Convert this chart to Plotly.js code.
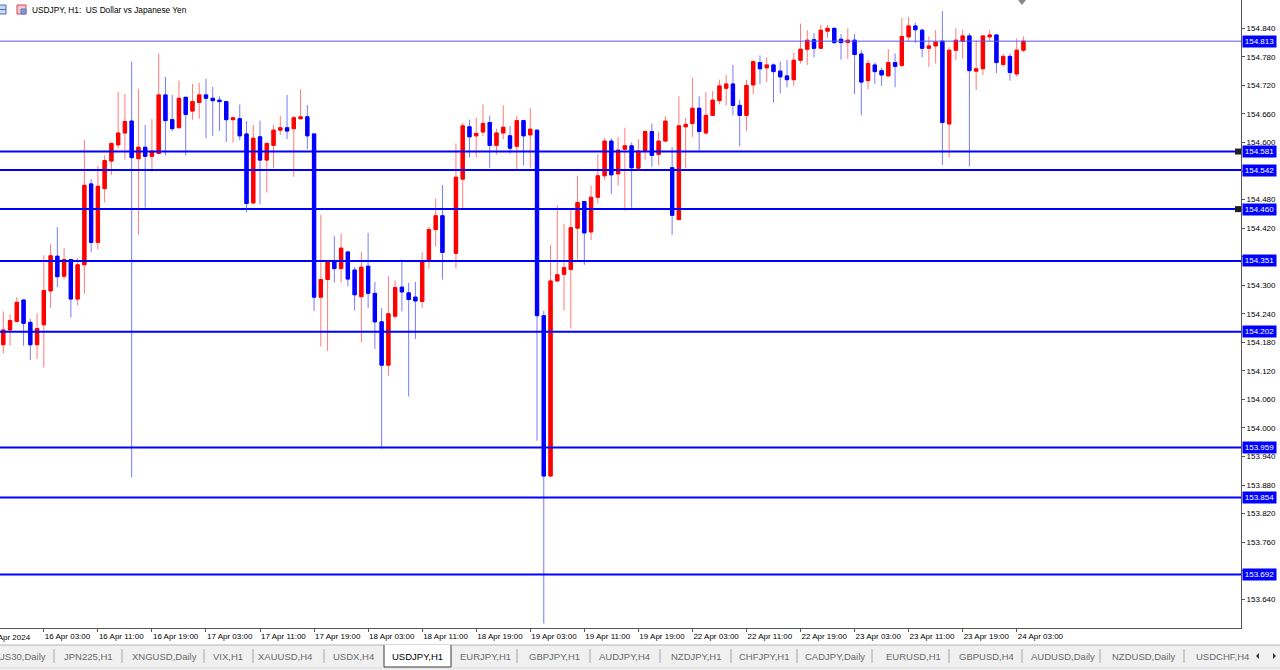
<!DOCTYPE html>
<html><head><meta charset="utf-8">
<script src="https://cdn.plot.ly/plotly-3.0.1.min.js"></script>
<style>html,body{margin:0;padding:0;background:#fff;overflow:hidden}#chart{width:1280px;height:670px}</style>
</head><body><div id="chart"></div>
<script>
// ---------------- DATA ----------------
const times = [
"2024-04-15 21:00","2024-04-15 22:00","2024-04-15 23:00",
"2024-04-16 00:00","2024-04-16 01:00","2024-04-16 02:00","2024-04-16 03:00","2024-04-16 04:00","2024-04-16 05:00","2024-04-16 06:00","2024-04-16 07:00","2024-04-16 08:00","2024-04-16 09:00","2024-04-16 10:00","2024-04-16 11:00","2024-04-16 12:00","2024-04-16 13:00","2024-04-16 14:00","2024-04-16 15:00","2024-04-16 16:00","2024-04-16 17:00","2024-04-16 18:00","2024-04-16 19:00","2024-04-16 20:00","2024-04-16 21:00","2024-04-16 22:00","2024-04-16 23:00",
"2024-04-17 00:00","2024-04-17 01:00","2024-04-17 02:00","2024-04-17 03:00","2024-04-17 04:00","2024-04-17 05:00","2024-04-17 06:00","2024-04-17 07:00","2024-04-17 08:00","2024-04-17 09:00","2024-04-17 10:00","2024-04-17 11:00","2024-04-17 12:00","2024-04-17 13:00","2024-04-17 14:00","2024-04-17 15:00","2024-04-17 16:00","2024-04-17 17:00","2024-04-17 18:00","2024-04-17 19:00","2024-04-17 20:00","2024-04-17 21:00","2024-04-17 22:00","2024-04-17 23:00",
"2024-04-18 00:00","2024-04-18 01:00","2024-04-18 02:00","2024-04-18 03:00","2024-04-18 04:00","2024-04-18 05:00","2024-04-18 06:00","2024-04-18 07:00","2024-04-18 08:00","2024-04-18 09:00","2024-04-18 10:00","2024-04-18 11:00","2024-04-18 12:00","2024-04-18 13:00","2024-04-18 14:00","2024-04-18 16:00","2024-04-18 17:00","2024-04-18 18:00","2024-04-18 19:00","2024-04-18 20:00","2024-04-18 21:00","2024-04-18 22:00","2024-04-18 23:00",
"2024-04-19 00:00","2024-04-19 01:00","2024-04-19 02:00","2024-04-19 03:00","2024-04-19 04:00","2024-04-19 05:00","2024-04-19 06:00","2024-04-19 07:00","2024-04-19 08:00","2024-04-19 09:00","2024-04-19 10:00","2024-04-19 11:00","2024-04-19 12:00","2024-04-19 13:00","2024-04-19 14:00","2024-04-19 15:00","2024-04-19 16:00","2024-04-19 17:00","2024-04-19 18:00","2024-04-19 19:00","2024-04-19 20:00","2024-04-19 21:00","2024-04-19 22:00","2024-04-19 23:00",
"2024-04-22 00:00","2024-04-22 01:00","2024-04-22 02:00","2024-04-22 03:00","2024-04-22 04:00","2024-04-22 05:00","2024-04-22 06:00","2024-04-22 07:00","2024-04-22 08:00","2024-04-22 09:00","2024-04-22 10:00","2024-04-22 11:00","2024-04-22 12:00","2024-04-22 13:00","2024-04-22 14:00","2024-04-22 15:00","2024-04-22 16:00","2024-04-22 17:00","2024-04-22 18:00","2024-04-22 19:00","2024-04-22 20:00","2024-04-22 21:00","2024-04-22 22:00","2024-04-22 23:00",
"2024-04-23 00:00","2024-04-23 01:00","2024-04-23 02:00","2024-04-23 03:00","2024-04-23 04:00","2024-04-23 05:00","2024-04-23 06:00","2024-04-23 07:00","2024-04-23 08:00","2024-04-23 09:00","2024-04-23 10:00","2024-04-23 11:00","2024-04-23 12:00","2024-04-23 13:00","2024-04-23 14:00","2024-04-23 15:00","2024-04-23 16:00","2024-04-23 17:00","2024-04-23 18:00","2024-04-23 19:00","2024-04-23 20:00","2024-04-23 21:00","2024-04-23 22:00","2024-04-23 23:00",
"2024-04-24 00:00","2024-04-24 01:00","2024-04-24 02:00","2024-04-24 03:00","2024-04-24 04:00"
];
const open = [
154.175,154.206,154.224,
154.269,154.222,154.175,154.217,154.288,154.361,154.319,154.354,154.271,154.343,154.513,154.390,154.503,154.561,154.595,154.620,154.645,154.566,154.590,154.571,154.577,154.700,154.648,154.631,
154.695,154.666,154.684,154.700,154.693,154.689,154.686,154.648,154.650,154.618,154.473,154.612,154.563,154.594,154.626,154.631,154.629,154.650,154.654,154.618,154.275,154.312,154.350,154.335,
154.370,154.332,154.276,154.340,154.283,154.223,154.132,154.235,154.296,154.284,154.275,154.266,154.352,154.417,154.446,154.367,154.523,154.633,154.614,154.622,154.642,154.594,154.620,
154.614,154.592,154.646,154.616,154.626,154.236,153.899,154.309,154.323,154.333,154.420,154.476,154.412,154.485,154.530,154.603,154.534,154.586,154.593,154.546,154.583,154.623,154.575,154.603,
154.547,154.438,154.633,154.640,154.672,154.620,154.657,154.688,154.714,154.723,154.678,154.657,154.721,154.768,154.757,154.763,154.750,154.740,154.732,154.773,154.796,154.816,154.798,154.834,
154.840,154.817,154.810,154.815,154.786,154.730,154.763,154.751,154.740,154.768,154.762,154.822,154.845,154.836,154.798,154.803,154.813,154.639,154.794,154.813,154.824,154.750,154.755,154.822,
154.826,154.764,154.781,154.744,154.794
];
const high = [
154.245,154.239,154.275,
154.270,154.229,154.241,154.363,154.386,154.422,154.378,154.354,154.357,154.606,154.523,154.551,154.573,154.600,154.706,154.702,154.770,154.713,154.637,154.650,154.787,154.738,154.700,154.730,
154.695,154.723,154.725,154.734,154.717,154.697,154.686,154.654,154.680,154.645,154.637,154.646,154.600,154.637,154.656,154.700,154.656,154.712,154.679,154.618,154.448,154.350,154.403,154.409,
154.370,154.338,154.370,154.410,154.307,154.252,154.319,154.310,154.354,154.305,154.307,154.369,154.423,154.482,154.511,154.598,154.642,154.648,154.652,154.680,154.656,154.629,154.678,
154.635,154.656,154.648,154.672,154.626,154.246,154.385,154.468,154.429,154.462,154.530,154.476,154.509,154.575,154.609,154.609,154.612,154.631,154.600,154.607,154.626,154.640,154.623,154.656,
154.590,154.697,154.652,154.736,154.697,154.706,154.708,154.732,154.742,154.763,154.690,154.732,154.772,154.783,154.779,154.766,154.770,154.774,154.789,154.850,154.836,154.830,154.847,154.847,
154.840,154.828,154.840,154.828,154.794,154.774,154.768,154.757,154.796,154.787,154.862,154.864,154.852,154.839,154.823,154.836,154.876,154.800,154.840,154.837,154.830,154.815,154.824,154.837,
154.828,154.787,154.787,154.819,154.823
];
const low = [
154.157,154.173,154.222,
154.173,154.143,154.145,154.127,154.252,154.296,154.313,154.232,154.258,154.282,154.370,154.376,154.474,154.532,154.587,154.564,153.896,154.406,154.463,154.539,154.575,154.573,154.624,154.631,
154.573,154.648,154.650,154.609,154.614,154.624,154.601,154.600,154.605,154.453,154.470,154.470,154.495,154.546,154.616,154.607,154.528,154.648,154.586,154.246,154.171,154.162,154.306,154.306,
154.298,154.247,154.180,154.252,154.166,153.956,154.110,154.230,154.245,154.066,154.187,154.252,154.335,154.381,154.312,154.336,154.460,154.569,154.569,154.614,154.547,154.575,154.607,
154.577,154.540,154.552,154.547,153.973,153.589,153.899,154.307,154.247,154.209,154.354,154.343,154.395,154.472,154.522,154.492,154.509,154.457,154.463,154.546,154.564,154.549,154.552,154.603,
154.406,154.438,154.546,154.612,154.583,154.616,154.657,154.680,154.678,154.657,154.592,154.624,154.702,154.723,154.727,154.684,154.703,154.716,154.719,154.766,154.763,154.779,154.796,154.820,
154.807,154.774,154.776,154.702,154.657,154.712,154.723,154.719,154.740,154.716,154.757,154.813,154.809,154.779,154.759,154.766,154.553,154.569,154.773,154.776,154.550,154.710,154.742,154.813,
154.746,154.759,154.730,154.738,154.790
];
const close = [
154.206,154.226,154.264,
154.220,154.175,154.209,154.289,154.362,154.318,154.354,154.271,154.343,154.510,154.390,154.508,154.562,154.598,154.620,154.644,154.568,154.590,154.571,154.582,154.700,154.646,154.629,154.693,
154.659,154.686,154.700,154.693,154.688,154.686,154.648,154.652,154.614,154.472,154.609,154.563,154.598,154.626,154.631,154.624,154.652,154.654,154.614,154.275,154.312,154.350,154.335,154.378,
154.313,154.280,154.338,154.283,154.223,154.132,154.240,154.295,154.286,154.270,154.267,154.352,154.417,154.446,154.369,154.527,154.635,154.612,154.619,154.640,154.594,154.620,154.632,
154.588,154.646,154.614,154.628,154.236,153.899,154.309,154.322,154.337,154.421,154.474,154.410,154.485,154.530,154.603,154.532,154.584,154.593,154.547,154.582,154.623,154.573,154.603,154.645,
154.447,154.635,154.638,154.672,154.623,154.657,154.689,154.719,154.723,154.678,154.657,154.720,154.770,154.755,154.763,154.749,154.738,154.732,154.773,154.796,154.815,154.798,154.836,154.840,
154.810,154.810,154.815,154.785,154.727,154.766,154.749,154.742,154.768,154.760,154.823,154.845,154.837,154.798,154.803,154.811,154.642,154.794,154.815,154.824,154.751,154.755,154.824,154.826,
154.768,154.781,154.747,154.794,154.813
];
const levels = [154.581, 154.542, 154.460, 154.351, 154.202, 153.959, 153.854, 153.692];
const bidLevel = 154.813;
const markedLevels = [154.581, 154.460];
const priceTicks = [153.640,153.700,153.760,153.820,153.880,153.940,154.000,154.060,154.120,154.180,154.240,154.300,154.360,154.420,154.480,154.540,154.600,154.660,154.720,154.780,154.840];
const timeTicks = ["2024-04-16 03:00","2024-04-16 11:00","2024-04-16 19:00","2024-04-17 03:00","2024-04-17 11:00","2024-04-17 19:00","2024-04-18 03:00","2024-04-18 11:00","2024-04-18 19:00","2024-04-19 03:00","2024-04-19 11:00","2024-04-19 19:00","2024-04-22 03:00","2024-04-22 11:00","2024-04-22 19:00","2024-04-23 03:00","2024-04-23 11:00","2024-04-23 19:00","2024-04-24 03:00"];
const timeTickText = ["16 Apr 03:00","16 Apr 11:00","16 Apr 19:00","17 Apr 03:00","17 Apr 11:00","17 Apr 19:00","18 Apr 03:00","18 Apr 11:00","18 Apr 19:00","19 Apr 03:00","19 Apr 11:00","19 Apr 19:00","22 Apr 03:00","22 Apr 11:00","22 Apr 19:00","23 Apr 03:00","23 Apr 11:00","23 Apr 19:00","24 Apr 03:00"];
const firstDateLabel = "16 Apr 2024";
const chartTitle = "USDJPY, H1:  US Dollar vs Japanese Yen";
const tabNames = ["US30,Daily","JPN225,H1","XNGUSD,Daily","VIX,H1","XAUUSD,H4","USDX,H4","USDJPY,H1","EURJPY,H1","GBPJPY,H1","AUDJPY,H4","NZDJPY,H1","CHFJPY,H1","CADJPY,Daily","EURUSD,H1","GBPUSD,H4","AUDUSD,Daily","NZDUSD,Daily","USDCHF,H4"];
const activeTab = "USDJPY,H1";

// ---------------- LAYOUT HELPERS ----------------
const W = 1241, H = 628;           // plot area in px
const PX = x => x / W;
const PY = y => 1 - y / H;
const FONT = "Liberation Sans, Arial, sans-serif";
const T0 = Date.parse("2024-04-15T21:00:00Z");
const WEEKEND_END = Date.parse("2024-04-22T00:00:00Z");
function slot(t) {
  const ms = Date.parse(t.replace(' ', 'T') + ':00Z');
  let h = (ms - T0) / 3600000;
  if (ms >= WEEKEND_END) h -= 48;
  return h;
}
const xs = times.map(slot);
const barPx = 6.756, firstPx = 3.3;
const xRange = [-firstPx / barPx, (W - firstPx) / barPx];
const yRange = [153.5796, 154.8995];
const pxPerPrice = H / (yRange[1] - yRange[0]);

const bodyTop = open.map((o, i) => Math.max(o, close[i]));
const bodyBottom = open.map((o, i) => Math.min(o, close[i]));

const traces = [
  { // wicks (lighter, thin)
    type: 'candlestick', x: xs, open: open, high: high, low: low, close: close,
    increasing: {line: {color: '#ff7a7a', width: 1}, fillcolor: '#ff0000'},
    decreasing: {line: {color: '#7a7aff', width: 1}, fillcolor: '#0000ff'},
    whiskerwidth: 0, hoverinfo: 'skip', showlegend: false
  },
  { // solid bodies
    type: 'candlestick', x: xs, open: open, high: bodyTop, low: bodyBottom, close: close,
    increasing: {line: {color: '#ff0000', width: 1}, fillcolor: '#ff0000'},
    decreasing: {line: {color: '#0000ff', width: 1}, fillcolor: '#0000ff'},
    whiskerwidth: 0, hoverinfo: 'skip', showlegend: false
  }
];

const shapes = [];
const annotations = [];

// level lines
levels.forEach(v => {
  shapes.push({type: 'line', xref: 'paper', yref: 'y', x0: 0, x1: 1, y0: v, y1: v, line: {color: '#0000ff', width: 2}, layer: 'above'});
  annotations.push({xref: 'paper', yref: 'y', x: PX(1242), y: v, xanchor: 'left', yanchor: 'middle', text: v.toFixed(3), showarrow: false,
    font: {family: FONT, size: 8, color: '#ffffff'}, bgcolor: '#0000ff', borderpad: 1, width: 31});
});
shapes.push({type: 'line', xref: 'paper', yref: 'y', x0: 0, x1: 1, y0: bidLevel, y1: bidLevel, line: {color: '#5555ff', width: 1}, layer: 'above'});
annotations.push({xref: 'paper', yref: 'y', x: PX(1242), y: bidLevel, xanchor: 'left', yanchor: 'middle', text: bidLevel.toFixed(3), showarrow: false,
  font: {family: FONT, size: 8, color: '#ffffff'}, bgcolor: '#0000ff', borderpad: 1, width: 31});
markedLevels.forEach(v => {
  const d = 3 / pxPerPrice;
  shapes.push({type: 'rect', xref: 'paper', yref: 'y', x0: PX(1235), x1: PX(1241), y0: v - d, y1: v + d, fillcolor: '#202020', line: {width: 0}, layer: 'above'});
});

// first date label
annotations.push({xref: 'paper', yref: 'paper', x: PX(33), y: PY(637), xanchor: 'right', yanchor: 'middle', text: firstDateLabel, showarrow: false,
  font: {family: FONT, size: 8, color: '#000'}});

// title + icons
annotations.push({xref: 'paper', yref: 'paper', x: PX(30), y: PY(10), xanchor: 'left', yanchor: 'middle', text: chartTitle, showarrow: false,
  font: {family: FONT, size: 8.3, color: '#000'}});
shapes.push({type: 'rect', xref: 'paper', yref: 'paper', x0: PX(-2), x1: PX(6), y0: PY(14), y1: PY(5), fillcolor: '#c8d8f0', line: {color: '#4a6fb8', width: 1}});
shapes.push({type: 'line', xref: 'paper', yref: 'paper', x0: PX(-2), x1: PX(6), y0: PY(9.5), y1: PY(9.5), line: {color: '#4a6fb8', width: 1}});
shapes.push({type: 'rect', xref: 'paper', yref: 'paper', x0: PX(17), x1: PX(26), y0: PY(14), y1: PY(5), fillcolor: '#f4c8cc', line: {color: '#e04050', width: 1}});
shapes.push({type: 'rect', xref: 'paper', yref: 'paper', x0: PX(21), x1: PX(26), y0: PY(14), y1: PY(9), fillcolor: '#7a9ad8', line: {color: '#5a7fc0', width: 1}});

// shift marker top right
shapes.push({type: 'path', xref: 'paper', yref: 'paper', path: `M${PX(1018)},${PY(0)} L${PX(1026)},${PY(0)} L${PX(1022)},${PY(5)} Z`, fillcolor: '#8a8a8a', line: {width: 0}});

// tab strip
shapes.push({type: 'rect', xref: 'paper', yref: 'paper', x0: PX(-2), x1: PX(1282), y0: PY(672), y1: PY(645), fillcolor: '#f0f0f0', line: {width: 0}, layer: 'below'});
shapes.push({type: 'line', xref: 'paper', yref: 'paper', x0: PX(0), x1: PX(1280), y0: PY(645), y1: PY(645), line: {color: '#b4b4b4', width: 1}});
shapes.push({type: 'line', xref: 'paper', yref: 'paper', x0: PX(0), x1: PX(1280), y0: PY(668), y1: PY(668), line: {color: '#dcdcdc', width: 1}});
shapes.push({type: 'rect', xref: 'paper', yref: 'paper', x0: PX(384), x1: PX(451), y0: PY(667), y1: PY(645), fillcolor: '#ffffff', line: {width: 0}});
shapes.push({type: 'path', xref: 'paper', yref: 'paper', path: `M${PX(384)},${PY(645)} L${PX(384)},${PY(667)} L${PX(451)},${PY(667)} L${PX(451)},${PY(645)}`, line: {color: '#3a3a3a', width: 1}});
const tabCenters = [22, 88, 164, 228, 285, 353, 417, 485, 554, 624, 696, 764, 835, 913, 986, 1063, 1144, 1222];
const sepX = [54, 122, 204, 253, 324, 517, 590, 660, 731, 797, 872, 949, 1022, 1100, 1184];
tabNames.forEach((n, i) => {
  annotations.push({xref: 'paper', yref: 'paper', x: PX(tabCenters[i]), y: PY(656), xanchor: 'center', yanchor: 'middle', text: n, showarrow: false,
    font: {family: FONT, size: 9.5, color: n === activeTab ? '#000000' : '#6a6a6a'}});
});
sepX.forEach(x => shapes.push({type: 'line', xref: 'paper', yref: 'paper', x0: PX(x), x1: PX(x), y0: PY(649), y1: PY(663), line: {color: '#a8a8a8', width: 1}}));
shapes.push({type: 'path', xref: 'paper', yref: 'paper', path: `M${PX(1256)},${PY(656)} L${PX(1259)},${PY(653)} L${PX(1259)},${PY(659)} Z`, fillcolor: '#303030', line: {width: 0}});
shapes.push({type: 'path', xref: 'paper', yref: 'paper', path: `M${PX(1276)},${PY(656)} L${PX(1273)},${PY(653)} L${PX(1273)},${PY(659)} Z`, fillcolor: '#303030', line: {width: 0}});

const layout = {
  width: 1280, height: 670,
  margin: {l: 0, r: 1280 - W, t: 0, b: 670 - H, pad: 0},
  paper_bgcolor: '#ffffff', plot_bgcolor: '#ffffff',
  showlegend: false,
  font: {family: FONT, size: 8, color: '#000'},
  xaxis: {
    type: 'linear', range: xRange, rangeslider: {visible: false},
    showgrid: false, zeroline: false, showline: true, linecolor: '#555555', linewidth: 1,
    tickmode: 'array', tickvals: timeTicks.map(slot), ticktext: timeTickText, tickangle: 0, automargin: false,
    ticks: 'outside', ticklen: 3, tickcolor: '#555555', ticklabelposition: 'outside right',
    tickfont: {family: FONT, size: 8, color: '#000'}, fixedrange: true
  },
  yaxis: {
    side: 'right', range: yRange,
    showgrid: false, zeroline: false, showline: true, linecolor: '#555555', linewidth: 1,
    tickmode: 'array', tickvals: priceTicks, ticktext: priceTicks.map(v => v.toFixed(3)),
    ticks: 'outside', ticklen: 3, tickcolor: '#555555', automargin: false,
    tickfont: {family: FONT, size: 8, color: '#000'}, fixedrange: true
  },
  shapes: shapes,
  annotations: annotations
};
Plotly.newPlot('chart', traces, layout, {displayModeBar: false, staticPlot: true});
</script>
</body></html>
